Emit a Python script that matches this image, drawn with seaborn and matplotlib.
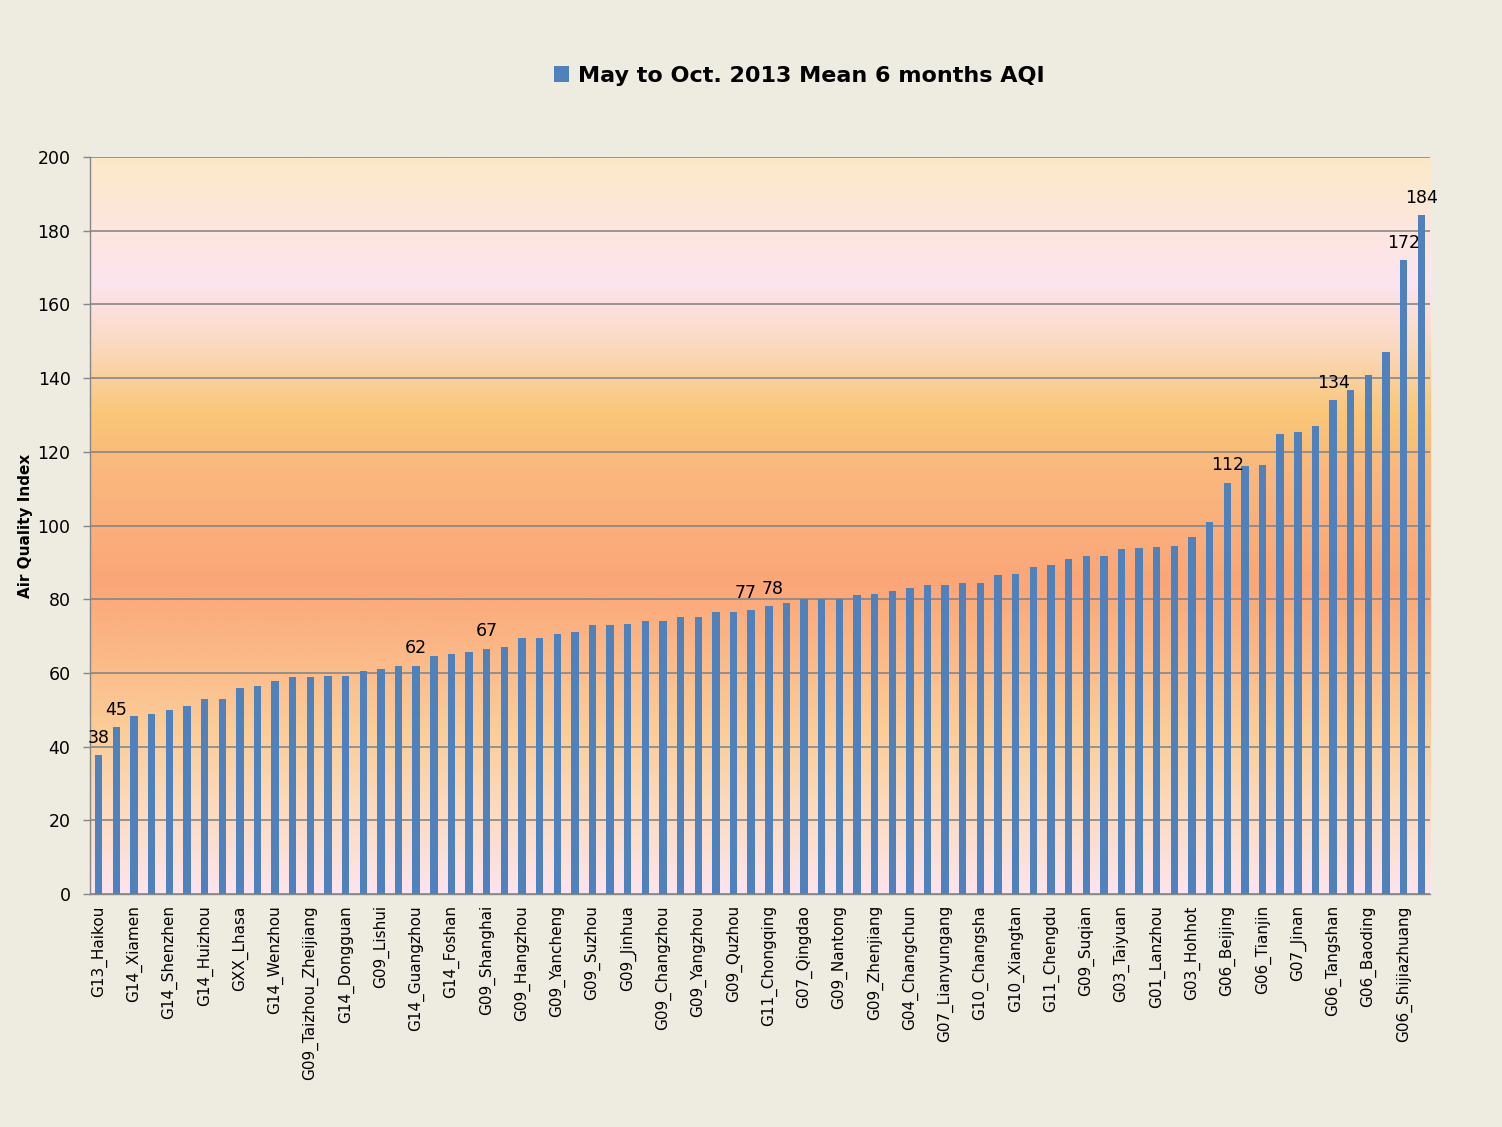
import numpy as np
import pandas as pd
import seaborn as sns
import matplotlib.pyplot as plt
from matplotlib.colors import LinearSegmentedColormap

# --- Data: mean AQI May-Oct 2013, 76 cities sorted low to high ---
aqi = [37.6, 45.3, 48.3, 48.9, 50.0, 51.1, 53.0, 53.0, 56.0, 56.5,
       57.9, 59.0, 59.0, 59.3, 59.3, 60.6, 61.2, 62.0, 62.0, 64.7,
       65.2, 65.8, 66.6, 67.1, 69.5, 69.5, 70.6, 71.2, 73.1, 73.1,
       73.3, 74.1, 74.1, 75.2, 75.2, 76.6, 76.6, 77.1, 78.2, 79.0,
       80.0, 80.0, 80.1, 81.2, 81.5, 82.3, 83.1, 83.9, 83.9, 84.5,
       84.5, 86.6, 86.9, 88.8, 89.3, 90.9, 91.7, 91.7, 93.6, 93.9,
       94.1, 94.4, 96.8, 100.9, 111.6, 116.1, 116.4, 124.8, 125.3, 127.0,
       134.1, 136.8, 140.9, 147.1, 172.0, 184.2]

# only every other city is named on the axis
tick_labels = ["G13_Haikou", "G14_Xiamen", "G14_Shenzhen", "G14_Huizhou", "GXX_Lhasa",
               "G14_Wenzhou", "G09_Taizhou_Zheijiang", "G14_Dongguan", "G09_Lishui",
               "G14_Guangzhou", "G14_Foshan", "G09_Shanghai", "G09_Hangzhou", "G09_Yancheng",
               "G09_Suzhou", "G09_Jinhua", "G09_Changzhou", "G09_Yangzhou", "G09_Quzhou",
               "G11_Chongqing", "G07_Qingdao", "G09_Nantong", "G09_Zhenjiang", "G04_Changchun",
               "G07_Lianyungang", "G10_Changsha", "G10_Xiangtan", "G11_Chengdu", "G09_Suqian",
               "G03_Taiyuan", "G01_Lanzhou", "G03_Hohhot", "G06_Beijing", "G06_Tianjin",
               "G07_Jinan", "G06_Tangshan", "G06_Baoding", "G06_Shijiazhuang"]

# bars that carry a value label
labeled_bars = [0, 1, 18, 22, 37, 38, 64, 70, 74, 75]

series_name = "May to Oct. 2013 Mean 6 months AQI"

df = pd.DataFrame({"rank": range(len(aqi)), "AQI": aqi})

sns.set_style("white")
plt.rcParams["font.family"] = ["DejaVu Sans"]
plt.rcParams["text.color"] = "black"
plt.rcParams["xtick.color"] = "black"
plt.rcParams["ytick.color"] = "black"
plt.rcParams["axes.labelcolor"] = "black"

bg = "#EEEBE0"
fig = plt.figure(figsize=(15.02, 11.27), dpi=100, facecolor=bg)
ax = fig.add_axes([0.0599, 0.2067, 0.8922, 0.654])

# gradient plot-area fill (Excel style)
stops = [(0.00, "#FDE4EC"), (0.10, "#FCDCC2"), (0.22, "#FBCD98"), (0.42, "#FBA678"),
         (0.57, "#FAB77E"), (0.65, "#F9C677"), (0.75, "#FBDAC3"), (0.83, "#FDE4EF"),
         (1.00, "#FCE9C8")]
cmap = LinearSegmentedColormap.from_list("aqi_bg", stops)
grad = np.linspace(0, 1, 400).reshape(-1, 1)
ax.imshow(grad, extent=[-0.5, len(aqi) - 0.5, 0, 200], aspect="auto",
          cmap=cmap, origin="lower", zorder=0)

sns.barplot(data=df, x="rank", y="AQI", color="#4F81BD", width=0.42,
            saturation=1, linewidth=0, edgecolor="none",
            label=series_name, ax=ax, zorder=2)

# small nudges so the neighbouring 77 / 78 labels do not collide
nudge = {37: -4, 38: 3}
for i in labeled_bars:
    ax.annotate(f"{round(aqi[i])}", (i, aqi[i]), xytext=(nudge.get(i, 0), 6),
                textcoords="offset points", ha="center", va="bottom", fontsize=12.5)

ax.set_xlim(-0.5, len(aqi) - 0.5)
ax.set_ylim(0, 200)
ax.set_yticks(range(0, 201, 20))
ax.yaxis.grid(True, color="#868686", linewidth=1.2)
ax.set_axisbelow(True)

ax.set_xticks(range(0, len(aqi), 2))
ax.set_xticklabels(tick_labels, rotation=90, fontsize=11)
ax.set_xticks(np.arange(-0.5, len(aqi)), minor=True)
ax.tick_params(axis="x", which="major", length=0, pad=8)
ax.tick_params(axis="x", which="minor", length=5, color="#868686", width=1)
ax.tick_params(axis="y", length=5, color="#868686", width=1, pad=9, labelsize=12.5, left=True)

ax.set_xlabel("")
ax.set_ylabel("Air Quality Index", fontsize=11, fontweight="bold", labelpad=3)

for side in ["top", "right"]:
    ax.spines[side].set_visible(False)
for side in ["left", "bottom"]:
    ax.spines[side].set_color("#868686")
    ax.spines[side].set_linewidth(1)

ax.legend(loc="center", bbox_to_anchor=(0.532, 0.933), bbox_transform=fig.transFigure,
          frameon=False, prop={"size": 16, "weight": "bold"}, handlelength=0.7,
          handleheight=0.7, handletextpad=0.4)

plt.savefig("out.png", dpi=100, facecolor=bg)
